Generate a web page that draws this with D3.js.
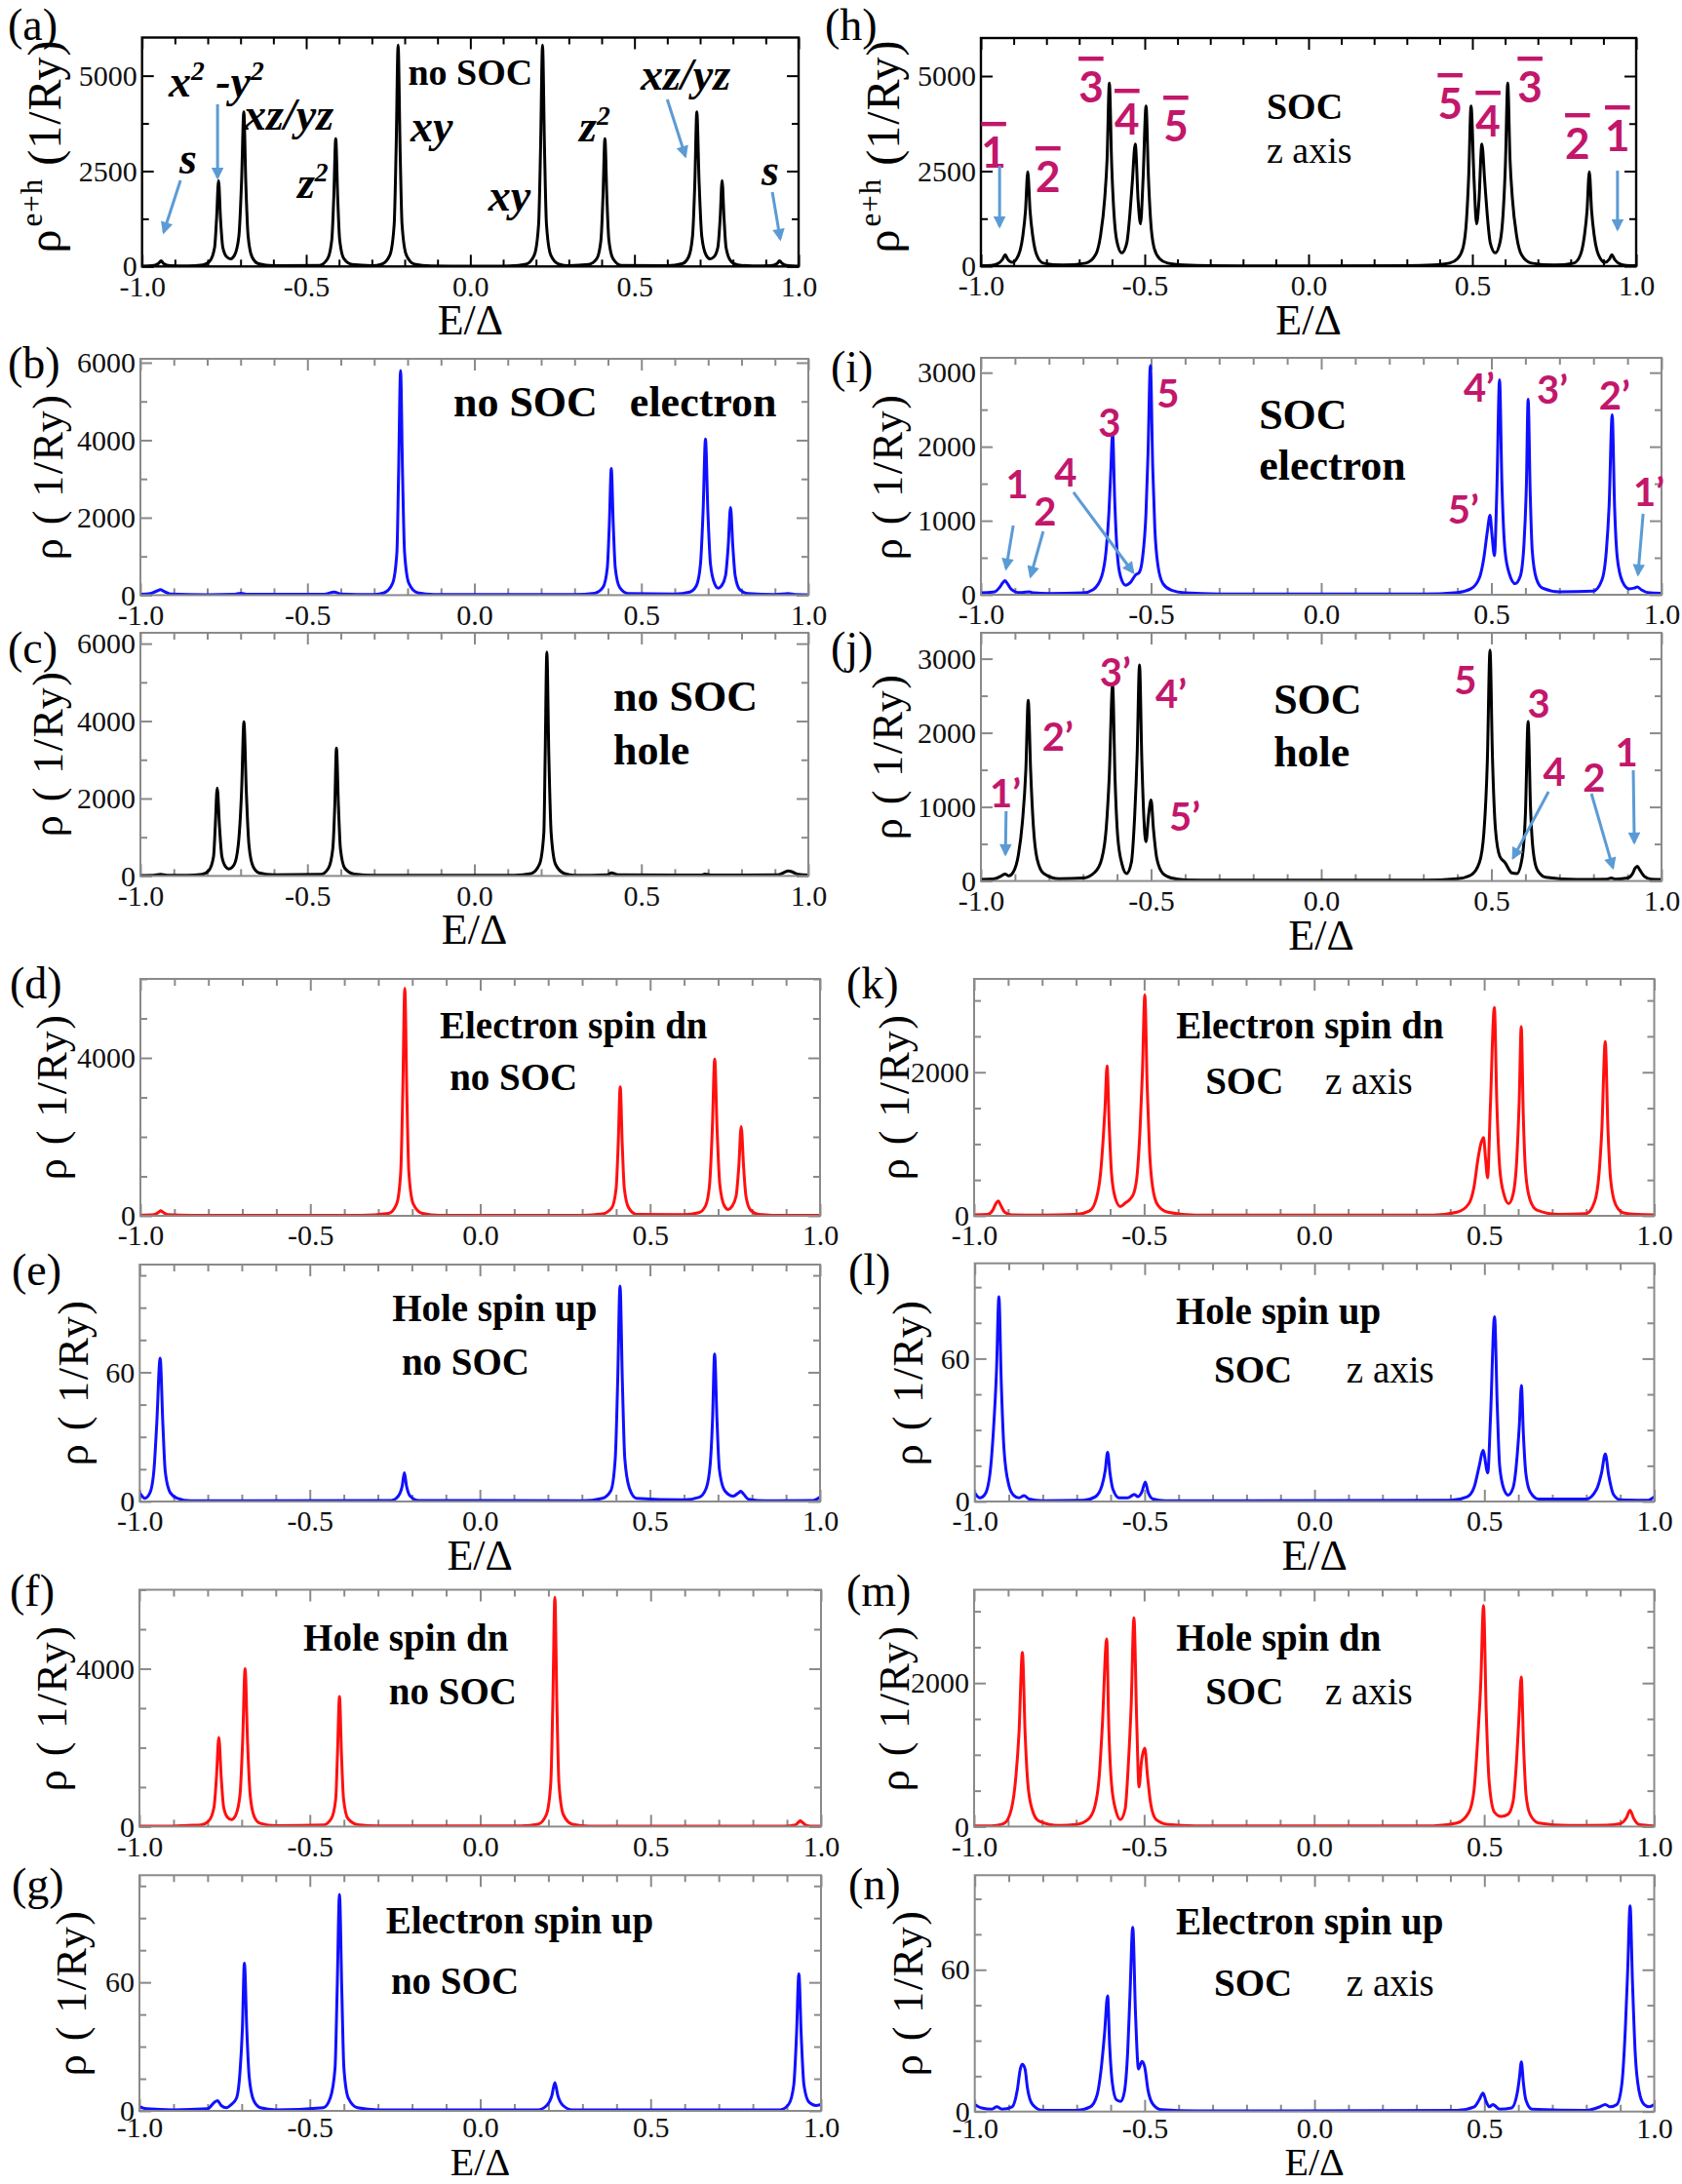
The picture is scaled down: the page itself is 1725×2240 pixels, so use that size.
<!DOCTYPE html>
<html lang="en">
<head>
<meta charset="UTF-8">
<title>Electron / hole densities of states</title>
<script src="https://d3js.org/d3.v7.min.js"></script>
<style>
  body { margin: 0; background: #fff; }
  svg { display: block; background: #fff; }
  text { font-family: "Liberation Serif", "Times New Roman", serif; }
  .tick text { font-size: 30px; fill: #111; }
  .mag { font-family: Lato, "Open Sans", sans-serif; font-weight: bold; fill: #c2176b; }
</style>
</head>
<body>
<svg width="1725" height="2240"></svg>
<script>
// ---- spectra: [E/Delta, rho] ----
const rhoNoSoc = [[-1,10],[-0.97,20],[-0.95,80],[-0.942,150],[-0.935,80],[-0.915,20],[-0.86,15],[-0.815,40],[-0.793,150],[-0.779,500],[-0.773,1250],[-0.767,2250],[-0.761,1250],[-0.754,500],[-0.742,250],[-0.73,200],[-0.718,300],[-0.705,800],[-0.697,2200],[-0.69,4050],[-0.684,2200],[-0.677,800],[-0.665,250],[-0.645,70],[-0.6,20],[-0.46,30],[-0.435,200],[-0.422,700],[-0.416,1800],[-0.41,3350],[-0.404,1800],[-0.398,700],[-0.385,200],[-0.36,50],[-0.3,20],[-0.27,60],[-0.245,300],[-0.232,1100],[-0.226,3100],[-0.22,5800],[-0.214,3100],[-0.208,1100],[-0.195,300],[-0.17,60],[-0.12,15],[0,5],
  [0.12,15],[0.17,60],[0.195,300],[0.208,1100],[0.214,3100],[0.22,5800],[0.226,3100],[0.232,1100],[0.245,300],[0.27,60],[0.3,20],[0.36,50],[0.385,200],[0.398,700],[0.404,1800],[0.41,3350],[0.416,1800],[0.422,700],[0.435,200],[0.46,30],[0.6,20],[0.645,70],[0.665,250],[0.677,800],[0.684,2200],[0.69,4050],[0.697,2200],[0.705,800],[0.718,300],[0.73,200],[0.742,250],[0.754,500],[0.761,1250],[0.767,2250],[0.773,1250],[0.779,500],[0.793,150],[0.815,40],[0.86,15],[0.915,20],[0.935,80],[0.942,150],[0.95,80],[0.97,20],[1,10]];

const rhoSoc = [[-1,10],[-0.97,20],[-0.95,60],[-0.934,180],[-0.926,300],[-0.918,180],[-0.905,100],[-0.885,300],[-0.872,800],[-0.864,1450],[-0.857,2483],[-0.85,1450],[-0.842,800],[-0.83,300],[-0.81,80],[-0.75,30],[-0.68,80],[-0.65,300],[-0.635,800],[-0.622,1800],[-0.615,2800],[-0.608,4812],[-0.601,2700],[-0.594,1400],[-0.585,650],[-0.57,350],[-0.555,600],[-0.545,1400],[-0.538,2200],[-0.529,3210],[-0.52,1700],[-0.513,1113],[-0.505,2300],[-0.496,4212],[-0.489,2400],[-0.482,1200],[-0.472,500],[-0.455,200],[-0.43,80],[-0.38,30],[-0.3,10],[0,5],
  [0.3,10],[0.38,30],[0.43,80],[0.455,200],[0.472,500],[0.482,1200],[0.489,2400],[0.496,4212],[0.505,2300],[0.513,1113],[0.52,1700],[0.529,3210],[0.538,2200],[0.545,1400],[0.555,600],[0.57,350],[0.585,650],[0.594,1400],[0.601,2700],[0.608,4812],[0.615,2800],[0.622,1800],[0.635,800],[0.65,300],[0.68,80],[0.75,30],[0.81,80],[0.83,300],[0.842,800],[0.85,1450],[0.857,2483],[0.864,1450],[0.872,800],[0.885,300],[0.905,100],[0.918,180],[0.926,300],[0.934,180],[0.95,60],[0.97,20],[1,10]];

const elecNoSoc = [[-1,20],[-0.97,40],[-0.95,110],[-0.94,140],[-0.93,100],[-0.91,30],[-0.8,10],[-0.72,20],[-0.7,50],[-0.68,20],[-0.45,20],[-0.42,80],[-0.4,30],[-0.3,15],[-0.27,60],[-0.245,300],[-0.232,1100],[-0.227,3100],[-0.221,5800],[-0.215,3100],[-0.209,1100],[-0.196,300],[-0.17,60],[-0.12,15],[0.3,15],[0.36,50],[0.385,200],[0.398,700],[0.404,1800],[0.41,3270],[0.416,1800],[0.422,700],[0.435,200],[0.46,40],[0.6,30],[0.645,80],[0.665,250],[0.677,800],[0.685,2200],[0.692,4030],[0.699,2200],[0.707,800],[0.72,280],[0.73,180],[0.74,240],[0.752,500],[0.76,1250],[0.767,2260],[0.774,1250],[0.781,500],[0.795,140],[0.82,40],[0.9,15],[0.94,40],[0.96,15],[1,10]];

const holeNoSoc = [[-1,10],[-0.96,15],[-0.94,40],[-0.92,15],[-0.86,15],[-0.815,40],[-0.795,140],[-0.781,500],[-0.776,1250],[-0.77,2270],[-0.763,1250],[-0.756,500],[-0.745,240],[-0.735,180],[-0.72,280],[-0.707,800],[-0.697,2200],[-0.69,3985],[-0.683,2200],[-0.675,800],[-0.663,250],[-0.645,80],[-0.6,30],[-0.46,40],[-0.437,200],[-0.424,700],[-0.418,1800],[-0.413,3300],[-0.407,1800],[-0.401,700],[-0.388,200],[-0.36,50],[-0.3,15],[0.12,15],[0.17,60],[0.195,300],[0.208,1100],[0.212,3100],[0.217,5780],[0.223,3100],[0.23,1100],[0.243,300],[0.27,60],[0.3,15],[0.4,30],[0.41,80],[0.43,30],[0.68,20],[0.69,50],[0.71,20],[0.91,30],[0.93,100],[0.94,130],[0.95,110],[0.97,40],[1,20]];

const elecSoc = [[-1,25],[-0.96,40],[-0.945,100],[-0.936,160],[-0.929,190],[-0.922,150],[-0.91,70],[-0.89,30],[-0.87,35],[-0.858,40],[-0.845,25],[-0.8,15],[-0.7,25],[-0.67,70],[-0.645,250],[-0.632,600],[-0.624,1100],[-0.619,1600],[-0.613,2182],[-0.607,1300],[-0.6,600],[-0.59,250],[-0.575,130],[-0.56,170],[-0.545,270],[-0.535,300],[-0.525,500],[-0.515,1100],[-0.509,1900],[-0.502,3095],[-0.495,1700],[-0.489,900],[-0.48,400],[-0.465,150],[-0.44,60],[-0.4,25],[-0.3,10],[0.3,10],[0.4,30],[0.44,80],[0.465,230],[0.478,500],[0.488,850],[0.496,1072],[0.502,800],[0.509,528],[0.516,1400],[0.524,2905],[0.531,1500],[0.54,600],[0.553,280],[0.57,150],[0.585,250],[0.596,700],[0.603,1500],[0.608,2641],[0.614,1400],[0.62,600],[0.632,220],[0.65,90],[0.7,40],[0.8,50],[0.825,200],[0.838,600],[0.846,1200],[0.855,2430],[0.862,1200],[0.87,500],[0.885,180],[0.905,80],[0.92,90],[0.929,106],[0.94,70],[0.96,30],[1,20]];

const holeSoc = [[-1,20],[-0.96,30],[-0.94,70],[-0.929,95],[-0.918,70],[-0.905,120],[-0.89,350],[-0.878,800],[-0.868,1500],[-0.861,2438],[-0.854,1500],[-0.846,750],[-0.835,300],[-0.815,100],[-0.77,30],[-0.7,40],[-0.665,120],[-0.645,300],[-0.632,700],[-0.623,1400],[-0.613,2650],[-0.606,1400],[-0.598,600],[-0.585,220],[-0.572,100],[-0.558,250],[-0.548,900],[-0.541,1700],[-0.534,2915],[-0.527,1600],[-0.515,530],[-0.507,900],[-0.5,1092],[-0.493,700],[-0.483,300],[-0.465,100],[-0.44,40],[-0.4,15],[-0.3,10],[0.3,10],[0.4,30],[0.44,80],[0.465,250],[0.478,650],[0.488,1600],[0.496,3116],[0.503,1700],[0.512,700],[0.525,330],[0.54,250],[0.56,110],[0.575,100],[0.59,300],[0.6,900],[0.608,2152],[0.615,1000],[0.623,400],[0.635,150],[0.66,50],[0.75,20],[0.84,25],[0.852,40],[0.865,25],[0.9,40],[0.915,100],[0.922,170],[0.929,200],[0.936,150],[0.95,60],[0.97,25],[1,20]];

const eDnNoSoc = [[-1,15],[-0.96,30],[-0.945,100],[-0.94,130],[-0.935,100],[-0.92,30],[-0.85,10],[-0.35,10],[-0.27,60],[-0.246,300],[-0.234,1100],[-0.228,3100],[-0.222,5760],[-0.216,3100],[-0.21,1100],[-0.197,300],[-0.17,60],[-0.12,10],[0.3,15],[0.36,50],[0.387,200],[0.4,700],[0.406,1800],[0.412,3266],[0.418,1800],[0.424,700],[0.437,200],[0.46,40],[0.6,30],[0.643,80],[0.663,250],[0.675,800],[0.683,2200],[0.69,3972],[0.697,2200],[0.705,800],[0.718,260],[0.73,160],[0.74,230],[0.753,500],[0.761,1250],[0.768,2259],[0.775,1250],[0.782,500],[0.796,140],[0.82,40],[0.9,10],[1,10]];

const hUpNoSoc = [[-1,4],[-0.985,1.5],[-0.97,4],[-0.958,15],[-0.95,36],[-0.94,66.5],[-0.932,36],[-0.925,14],[-0.91,4],[-0.89,1.5],[-0.85,0.3],[-0.26,0.5],[-0.24,2.5],[-0.228,7.5],[-0.222,13.4],[-0.216,7.5],[-0.205,2.5],[-0.18,0.5],[0.3,0.3],[0.36,1.5],[0.385,5],[0.398,20],[0.405,55],[0.412,100],[0.419,55],[0.426,20],[0.44,6],[0.46,1.5],[0.6,0.8],[0.645,2],[0.665,6],[0.677,17],[0.684,38],[0.69,68.5],[0.697,38],[0.704,15],[0.72,5],[0.745,2.5],[0.76,4],[0.767,4.7],[0.775,3.5],[0.79,1],[0.84,0.3],[0.98,0.5],[1,2]];

const hDnNoSoc = [[-1,10],[-0.9,10],[-0.86,30],[-0.82,40],[-0.797,140],[-0.781,500],[-0.774,1250],[-0.767,2255],[-0.76,1250],[-0.753,500],[-0.742,240],[-0.73,177],[-0.718,280],[-0.705,800],[-0.697,2200],[-0.69,4000],[-0.683,2200],[-0.675,800],[-0.663,250],[-0.645,80],[-0.6,25],[-0.46,40],[-0.437,200],[-0.424,700],[-0.419,1800],[-0.413,3294],[-0.407,1800],[-0.401,700],[-0.388,200],[-0.36,50],[-0.3,15],[0.12,15],[0.17,60],[0.194,300],[0.207,1100],[0.213,3100],[0.219,5808],[0.225,3100],[0.231,1100],[0.244,300],[0.27,60],[0.32,10],[0.9,10],[0.925,40],[0.934,110],[0.939,145],[0.945,110],[0.955,40],[0.97,10],[1,10]];

const eUpNoSoc = [[-1,2],[-0.98,1],[-0.9,0.5],[-0.8,1],[-0.78,4],[-0.771,4.8],[-0.76,2.5],[-0.745,1.5],[-0.73,3],[-0.715,6],[-0.705,18],[-0.698,38],[-0.692,69],[-0.685,38],[-0.678,16],[-0.665,5],[-0.645,1.5],[-0.6,0.5],[-0.46,1.5],[-0.44,6],[-0.426,20],[-0.42,55],[-0.413,101],[-0.406,55],[-0.4,20],[-0.387,6],[-0.36,1.5],[-0.3,0.5],[0.17,0.5],[0.195,2.5],[0.21,7],[0.219,13.2],[0.228,7],[0.243,2.5],[0.27,0.5],[0.88,0.5],[0.905,3],[0.92,12],[0.928,35],[0.935,64],[0.942,35],[0.95,12],[0.965,4],[0.985,2.5],[1,3]];

const eDnSoc = [[-1,15],[-0.96,20],[-0.945,80],[-0.936,170],[-0.929,208],[-0.922,150],[-0.91,50],[-0.89,15],[-0.8,10],[-0.7,20],[-0.66,70],[-0.64,250],[-0.628,600],[-0.62,1100],[-0.615,1500],[-0.609,2088],[-0.603,1300],[-0.596,600],[-0.585,250],[-0.57,130],[-0.555,180],[-0.54,240],[-0.53,320],[-0.52,600],[-0.512,1200],[-0.505,2000],[-0.498,3075],[-0.491,1800],[-0.484,900],[-0.475,400],[-0.46,150],[-0.43,50],[-0.35,10],[0.35,10],[0.42,50],[0.455,170],[0.47,400],[0.482,800],[0.49,1000],[0.498,1091],[0.504,800],[0.51,530],[0.518,1500],[0.53,2904],[0.537,1600],[0.546,650],[0.558,300],[0.572,170],[0.585,300],[0.596,800],[0.603,1600],[0.609,2634],[0.615,1400],[0.622,600],[0.635,220],[0.655,80],[0.72,20],[0.8,30],[0.825,200],[0.838,600],[0.846,1200],[0.856,2426],[0.864,1200],[0.872,500],[0.887,150],[0.91,40],[0.95,20],[1,15]];

const hUpSoc = [[-1,3.5],[-0.985,1.5],[-0.97,3],[-0.955,12],[-0.945,30],[-0.936,55],[-0.929,86],[-0.922,50],[-0.914,22],[-0.9,7],[-0.885,2.5],[-0.87,1.5],[-0.855,2.5],[-0.84,1],[-0.8,0.3],[-0.68,0.5],[-0.645,2],[-0.625,7],[-0.616,13],[-0.609,20.7],[-0.602,12],[-0.593,5],[-0.575,1.5],[-0.55,1.5],[-0.53,3],[-0.52,2],[-0.508,4],[-0.498,8.2],[-0.49,4],[-0.475,1],[-0.44,0.3],[0.4,0.5],[0.45,2],[0.47,6],[0.485,15],[0.496,21.5],[0.51,12],[0.518,35],[0.53,77.6],[0.538,40],[0.545,15],[0.558,5],[0.57,2.7],[0.585,6],[0.597,20],[0.603,32],[0.609,48.7],[0.615,28],[0.622,12],[0.635,4],[0.66,1],[0.8,1],[0.83,5],[0.845,12],[0.856,20],[0.866,11],[0.88,3],[0.9,0.7],[0.92,0.6],[0.98,0.5],[1,2]];

const hDnSoc = [[-1,10],[-0.95,10],[-0.93,20],[-0.91,50],[-0.89,250],[-0.877,700],[-0.868,1300],[-0.858,2426],[-0.85,1300],[-0.842,600],[-0.83,250],[-0.81,80],[-0.75,15],[-0.7,30],[-0.665,100],[-0.645,280],[-0.632,700],[-0.623,1400],[-0.61,2614],[-0.604,1400],[-0.596,600],[-0.583,220],[-0.57,97],[-0.556,240],[-0.546,900],[-0.538,1700],[-0.53,2909],[-0.522,1500],[-0.515,551],[-0.508,900],[-0.498,1091],[-0.49,700],[-0.48,300],[-0.465,100],[-0.43,30],[-0.35,10],[0.35,10],[0.42,50],[0.455,200],[0.47,500],[0.482,1300],[0.49,2000],[0.498,3080],[0.506,1600],[0.515,600],[0.53,200],[0.55,140],[0.57,170],[0.585,350],[0.595,900],[0.602,1500],[0.609,2085],[0.616,1100],[0.623,450],[0.635,170],[0.66,50],[0.75,15],[0.86,20],[0.9,40],[0.918,120],[0.929,227],[0.94,110],[0.955,30],[1,10]];

const eUpSoc = [[-1,3],[-0.98,1.5],[-0.95,1],[-0.935,2],[-0.92,1],[-0.89,2],[-0.875,9],[-0.866,18],[-0.86,20],[-0.852,18],[-0.845,10],[-0.83,3],[-0.8,0.5],[-0.7,0.5],[-0.66,2],[-0.64,7],[-0.628,18],[-0.618,33],[-0.609,49],[-0.603,28],[-0.595,12],[-0.583,5],[-0.57,4.3],[-0.56,8],[-0.55,25],[-0.543,50],[-0.535,78],[-0.527,42],[-0.518,18],[-0.508,21.2],[-0.5,19],[-0.49,9],[-0.475,3],[-0.45,0.8],[-0.35,0.3],[0.42,0.5],[0.47,2],[0.485,5],[0.496,7.8],[0.506,4],[0.515,2],[0.525,3],[0.53,2.6],[0.545,1],[0.58,1.5],[0.597,8],[0.603,14],[0.609,21],[0.615,12],[0.622,5],[0.64,1],[0.8,0.5],[0.84,2],[0.856,3],[0.87,2],[0.89,3],[0.905,12],[0.915,35],[0.922,60],[0.929,87],[0.936,55],[0.944,25],[0.955,9],[0.97,3],[0.985,2],[1,3]];

// ---- axis ticks ----
const xMajor = [-1, -0.5, 0, 0.5, 1];

// ---- annotations, placed in data units [text, E, rho] ----
const orbitalNotes = [['x^2 -y^2', -0.919, 4453], ['s', -0.886, 2435], ['xz/yz', -0.690, 3585], ['z^2', -0.527, 1796],
  ['xy', -0.182, 3278], ['xy', 0.055, 1464], ['z^2', 0.332, 3278], ['xz/yz', 0.519, 4632], ['s', 0.887, 2128]];
const orbitalArrows = [[-0.883, 2256, -0.934, 902], [-0.770, 4249, -0.770, 2333], [0.600, 4377, 0.655, 2895], [0.920, 1949, 0.944, 723]];

const barLevels = [['1', -0.961, 2590], ['2', -0.795, 1949], ['3', -0.664, 4308], ['4', -0.554, 3461], ['5', -0.405, 3282],
  ['5', 0.432, 3872], ['4', 0.548, 3410], ['3', 0.676, 4308], ['2', 0.821, 2820], ['1', 0.943, 3025]];
const barArrows = [[-0.943, 2641, -0.943, 1051], [0.943, 2513, 0.943, 974]];

const elecLevels = [['1', -0.894, 1304], ['2', -0.811, 935], ['4', -0.751, 1462], ['3', -0.622, 2134], ['5', -0.450, 2529],
  ['4\u2019', 0.464, 2608], ['3\u2019', 0.679, 2581], ['2\u2019', 0.862, 2502], ['5\u2019', 0.418, 961], ['1\u2019', 0.963, 1198]];
const elecArrows = [[-0.905, 935, -0.926, 356], [-0.817, 856, -0.854, 250], [-0.728, 1383, -0.553, 303], [0.946, 1093, 0.931, 277]];

const holeLevels = [['1\u2019', -0.928, 995], ['2\u2019', -0.774, 1758], ['3\u2019', -0.605, 2627], ['4\u2019', -0.441, 2337], ['5\u2019', -0.401, 679],
  ['5', 0.424, 2521], ['3', 0.639, 2206], ['4', 0.685, 1284], ['2', 0.802, 1205], ['1', 0.897, 1548]];
const holeArrows = [[-0.926, 942, -0.928, 363], [0.668, 1205, 0.564, 312], [0.794, 1179, 0.857, 180], [0.917, 1495, 0.920, 521]];

const boldNotes = {
  a: [['no SOC', -0.190, 4760]],
  h: [['SOC', -0.128, 3872]],
  b: [['no SOC\u2002 electron', -0.063, 4616]],
  c: [['no SOC', 0.416, 4265], ['hole', 0.416, 2881]],
  i: [['SOC', -0.183, 2239], ['electron', -0.183, 1554]],
  j: [['SOC', -0.140, 2258], ['hole', -0.140, 1548]],
  d: [['Electron spin dn', -0.119, 4494], ['no SOC', -0.090, 3185]],
  e: [['Hole spin up', -0.258, 83.7], ['no SOC', -0.230, 58.9]],
  f: [['Hole spin dn', -0.519, 4456], ['no SOC', -0.268, 3097]],
  g: [['Electron spin up', -0.277, 82.8], ['no SOC', -0.262, 54.6]],
  k: [['Electron spin dn', -0.406, 2472], ['SOC', -0.320, 1698]],
  l: [['Hole spin up', -0.408, 74.5], ['SOC', -0.296, 49.9]],
  m: [['Hole spin dn', -0.406, 2452], ['SOC', -0.320, 1704]],
  n: [['Electron spin up', -0.408, 75], ['SOC', -0.296, 49]]
};
const plainNotes = {
  h: [['z axis', -0.128, 2718]],
  k: [['z axis', 0.032, 1698]],
  l: [['z axis', 0.094, 49.9]],
  m: [['z axis', 0.032, 1704]],
  n: [['z axis', 0.094, 49]]
};

// ---- layout ----
const BLUE = '#1010ff', RED = '#ff1010', BLACK = '#000';
const panels = [
  { key: 'a', data: rhoNoSoc, color: BLACK, box: [145.7, 38.5, 819, 273.3], ymax: 6000, yTicks: [0, 2500, 5000], yStep: 1250, dark: true, xTitle: 70, tag: [8, 41], yLab: [62, 150], eh: true, noteSize: 38 },
  { key: 'h', data: rhoSoc, color: BLACK, box: [1006, 39, 1678, 273], ymax: 6000, yTicks: [0, 2500, 5000], yStep: 1250, dark: true, xTitle: 70, tag: [846, 41], yLab: [922, 150], eh: true, noteSize: 38 },
  { key: 'b', data: elecNoSoc, color: BLUE, box: [144, 368, 829, 610.4], ymax: 6100, yTicks: [0, 2000, 4000, 6000], yStep: 1000, tag: [8, 388], yLab: [64, 489], noteSize: 44 },
  { key: 'c', data: holeNoSoc, color: BLACK, box: [144, 649, 829, 898.4], ymax: 6280, yTicks: [0, 2000, 4000, 6000], yStep: 1000, xTitle: 70, tag: [8, 680], yLab: [64, 773], noteSize: 44 },
  { key: 'i', data: elecSoc, color: BLUE, box: [1006, 367, 1704, 610], ymax: 3200, yTicks: [0, 1000, 2000, 3000], yStep: 500, tag: [852, 392], yLab: [925, 489], noteSize: 44 },
  { key: 'j', data: holeSoc, color: BLACK, box: [1006, 649, 1704, 903.6], ymax: 3350, yTicks: [0, 1000, 2000, 3000], yStep: 500, xTitle: 70, tag: [852, 680], yLab: [925, 776], noteSize: 44 },
  { key: 'd', data: eDnNoSoc, color: RED, box: [144, 1004, 841, 1247], ymax: 6000, yTicks: [0, 4000], yStep: 1000, tag: [10, 1024], yLab: [68, 1125], noteSize: 39 },
  { key: 'e', data: hUpNoSoc, color: BLUE, box: [143.3, 1297, 841, 1540], ymax: 110, yTicks: [0, 60], yStep: 15, xTitle: 70, tag: [12, 1318], yLab: [90, 1418], noteSize: 39 },
  { key: 'f', data: hDnNoSoc, color: RED, box: [143, 1630.5, 842, 1873.4], ymax: 6000, yTicks: [0, 4000], yStep: 1000, tag: [10, 1647], yLab: [68, 1752], noteSize: 39 },
  { key: 'g', data: eUpNoSoc, color: BLUE, box: [143, 1923.3, 842, 2165], ymax: 110, yTicks: [0, 60], yStep: 15, xTitle: 66, tickPad: 6, titleSize: 40, tag: [12, 1948], yLab: [88, 2044], noteSize: 39 },
  { key: 'k', data: eDnSoc, color: RED, box: [999, 1004, 1696.5, 1247], ymax: 3300, yTicks: [0, 2000], yStep: 500, tag: [868, 1024], yLab: [932, 1125], noteSize: 39 },
  { key: 'l', data: hUpSoc, color: BLUE, box: [999.7, 1295.7, 1696.5, 1540], ymax: 100, yTicks: [0, 60], yStep: 15, xTitle: 70, tag: [870, 1318], yLab: [946, 1418], noteSize: 39 },
  { key: 'm', data: hDnSoc, color: RED, box: [999, 1630.5, 1696.5, 1873.4], ymax: 3300, yTicks: [0, 2000], yStep: 500, tag: [868, 1647], yLab: [932, 1752], noteSize: 39 },
  { key: 'n', data: eUpSoc, color: BLUE, box: [999.7, 1923.3, 1696.5, 2165.7], ymax: 100, yTicks: [0, 60], yStep: 15, xTitle: 65, tickPad: 6, titleSize: 40, tag: [870, 1948], yLab: [946, 2044], noteSize: 39 }
];

const svg = d3.select('svg');
const defs = svg.append('defs');
defs.append('marker').attr('id', 'head').attr('viewBox', '0 0 10 10')
  .attr('refX', 8).attr('refY', 5).attr('markerWidth', 5).attr('markerHeight', 4.2)
  .attr('orient', 'auto')
  .append('path').attr('d', 'M0,0 L10,5 L0,10 z').attr('fill', '#5b9bd5');

function styleAxis(sel, ink) {
  sel.select('.domain').remove();
  sel.selectAll('.tick line').attr('stroke', ink).attr('stroke-width', 2);
  sel.selectAll('.tick text').filter(function () { return !this.textContent; }).remove();
}

// writes "x^2" style strings with raised digits
function richText(t, str, size) {
  const parts = str.split(/(\^\d)/).filter(s => s.length);
  let raised = false;
  parts.forEach(s => {
    if (s[0] === '^') {
      t.append('tspan').text(s.slice(1)).attr('font-size', size * 0.6).attr('dy', -size * 0.38);
      raised = true;
    } else {
      const ts = t.append('tspan').text(s);
      if (raised) { ts.attr('dy', size * 0.38); raised = false; }
    }
  });
}

function drawPanel(p) {
  const [x0, y0, x1, y1] = p.box;
  const x = d3.scaleLinear().domain([-1, 1]).range([x0, x1]);
  const y = d3.scaleLinear().domain([0, p.ymax]).range([y1, y0]);
  const ink = p.dark ? '#000' : '#8a8a8a';
  const g = svg.append('g').attr('class', 'panel-' + p.key);

  defs.append('clipPath').attr('id', 'clip-' + p.key).append('rect')
    .attr('x', x0).attr('y', y0).attr('width', x1 - x0).attr('height', y1 - y0);

  const xMinor = d3.range(-10, 11).filter(i => i % 5 !== 0).map(i => i / 10);
  const yMinor = d3.range(0, p.ymax + 1e-9, p.yStep).filter(v => !p.yTicks.includes(v));

  // ticks on all four sides, pointing inwards
  g.append('g').attr('transform', `translate(0,${y1})`)
    .call(d3.axisBottom(x).tickValues(xMajor).tickFormat(d => d.toFixed(1)).tickSize(-12).tickPadding(p.tickPad || 9))
    .call(styleAxis, ink);
  g.append('g').attr('transform', `translate(0,${y1})`)
    .call(d3.axisBottom(x).tickValues(xMinor).tickFormat('').tickSize(-7)).call(styleAxis, ink);
  g.append('g').attr('transform', `translate(0,${y0})`)
    .call(d3.axisTop(x).tickValues(xMajor).tickFormat('').tickSize(-12)).call(styleAxis, ink);
  g.append('g').attr('transform', `translate(0,${y0})`)
    .call(d3.axisTop(x).tickValues(xMinor).tickFormat('').tickSize(-7)).call(styleAxis, ink);
  g.append('g').attr('transform', `translate(${x0},0)`)
    .call(d3.axisLeft(y).tickValues(p.yTicks).tickFormat(d => String(d)).tickSize(-12).tickPadding(5))
    .call(styleAxis, ink);
  g.append('g').attr('transform', `translate(${x0},0)`)
    .call(d3.axisLeft(y).tickValues(yMinor).tickFormat('').tickSize(-7)).call(styleAxis, ink);
  g.append('g').attr('transform', `translate(${x1},0)`)
    .call(d3.axisRight(y).tickValues(p.yTicks).tickFormat('').tickSize(-12)).call(styleAxis, ink);
  g.append('g').attr('transform', `translate(${x1},0)`)
    .call(d3.axisRight(y).tickValues(yMinor).tickFormat('').tickSize(-7)).call(styleAxis, ink);

  g.append('path').datum(p.data)
    .attr('clip-path', `url(#clip-${p.key})`)
    .attr('fill', 'none').attr('stroke', p.color).attr('stroke-width', 3)
    .attr('stroke-linejoin', 'round')
    .attr('d', d3.line().x(d => x(d[0])).y(d => y(d[1])).curve(d3.curveMonotoneX));

  g.append('rect').attr('x', x0).attr('y', y0).attr('width', x1 - x0).attr('height', y1 - y0)
    .attr('fill', 'none').attr('stroke', ink).attr('stroke-width', p.dark ? 2.4 : 2);

  // panel tag
  g.append('text').attr('x', p.tag[0]).attr('y', p.tag[1]).attr('font-size', 46).text(`(${p.key})`);

  // axis titles
  if (p.xTitle) {
    g.append('text').attr('x', x(0)).attr('y', y1 + p.xTitle).attr('text-anchor', 'middle')
      .attr('font-size', p.titleSize || 44).text('E/\u0394');
  }
  const yl = g.append('text').attr('transform', `translate(${p.yLab[0]},${p.yLab[1]}) rotate(-90)`)
    .attr('text-anchor', 'middle');
  if (p.eh) {
    yl.attr('font-size', 48).attr('letter-spacing', 1);
    yl.append('tspan').text('\u03c1');
    yl.append('tspan').text('e+h').attr('font-size', 31).attr('dy', -19).attr('dx', 2);
    yl.append('tspan').text(' (1/Ry)').attr('dy', 19);
  } else {
    yl.attr('font-size', 44).attr('letter-spacing', 1.5).text('\u03c1 ( 1/Ry)');
  }

  (boldNotes[p.key] || []).forEach(([t, e, r]) => {
    g.append('text').attr('x', x(e)).attr('y', y(r)).attr('font-size', p.noteSize)
      .attr('font-weight', 'bold').text(t);
  });
  (plainNotes[p.key] || []).forEach(([t, e, r]) => {
    g.append('text').attr('x', x(e)).attr('y', y(r)).attr('font-size', p.noteSize).text(t);
  });

  return { g, x, y };
}

function drawArrows(ctx, list) {
  list.forEach(([ea, ra, eb, rb]) => {
    ctx.g.append('line')
      .attr('x1', ctx.x(ea)).attr('y1', ctx.y(ra)).attr('x2', ctx.x(eb)).attr('y2', ctx.y(rb))
      .attr('stroke', '#5b9bd5').attr('stroke-width', 3).attr('marker-end', 'url(#head)');
  });
}

function drawLevels(ctx, list, size, bar) {
  list.forEach(([t, e, r]) => {
    ctx.g.append('text').attr('class', 'mag').attr('x', ctx.x(e)).attr('y', ctx.y(r))
      .attr('text-anchor', 'middle').attr('font-size', size)
      .style('text-decoration', bar ? 'overline' : null).text(t);
  });
}

const drawn = {};
panels.forEach(p => { drawn[p.key] = drawPanel(p); });

// orbital labels of panel (a)
orbitalNotes.forEach(([t, e, r]) => {
  const txt = drawn.a.g.append('text').attr('x', drawn.a.x(e)).attr('y', drawn.a.y(r))
    .attr('font-size', 46).attr('font-weight', 'bold').attr('font-style', 'italic');
  richText(txt, t, 46);
});
drawArrows(drawn.a, orbitalArrows);

drawLevels(drawn.h, barLevels, 44, true);
drawArrows(drawn.h, barArrows);
drawLevels(drawn.i, elecLevels, 40, false);
drawArrows(drawn.i, elecArrows);
drawLevels(drawn.j, holeLevels, 40, false);
drawArrows(drawn.j, holeArrows);
</script>
</body>
</html>
